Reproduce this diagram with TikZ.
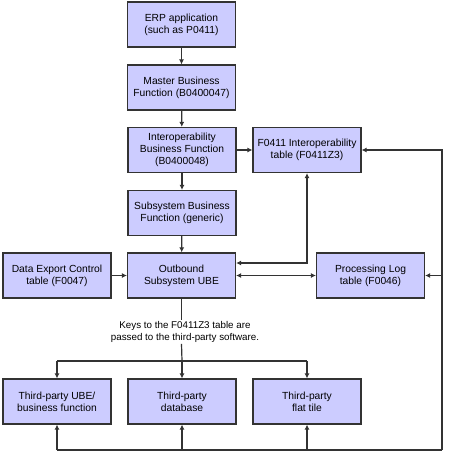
\documentclass[tikz,border=0pt]{standalone}
\usepackage{fontspec}
\setmainfont{Liberation Sans}
\usetikzlibrary{arrows.meta,calc}

\definecolor{boxfill}{HTML}{CCCCFF}
\definecolor{linegray}{HTML}{333333}

\begin{document}
\begin{tikzpicture}[x=1pt, y=-1pt, line join=miter,
  box/.style={draw=linegray, line width=1.2pt, fill=boxfill, align=center,
              minimum width=108pt, minimum height=45pt, inner sep=2pt,
              font=\fontsize{10.3}{12}\selectfont},
  lnk/.style={draw=linegray, line width=1.2pt},
  arr/.style={lnk, -{Latex[length=5pt,width=5pt]}},
  arrs/.style={lnk, {Latex[length=5pt,width=5pt]}-{Latex[length=5pt,width=5pt]}}]

\useasboundingbox (0,0) rectangle (468,463);

% --- Main column ---
\node[box] (erp)      at (181.5,24.5)  {ERP application\\(such as P0411)};
\node[box] (master)   at (181.5,87.5)  {Master Business\\Function (B0400047)};
\node[box] (interop)  at (182,150)     {Interoperability\\Business Function\\(B0400048)};
\node[box] (subsys)   at (182,213)     {Subsystem Business\\Function (generic)};
\node[box] (outbound) at (181.5,275.5) {Outbound\\Subsystem UBE};

% --- Side tables ---
\node[box] (f0411)   at (307,150)     {F0411 Interoperability\\table (F0411Z3)};
\node[box] (dataexp) at (57,275.5)    {Data Export Control\\table (F0047)};
\node[box] (proclog) at (370.5,275.5) {Processing Log\\table (F0046)};

% --- Third-party targets ---
\node[box] (ube)  at (57,401.5)  {Third-party UBE/\\business function};
\node[box] (db)   at (182,401.5) {Third-party\\database};
\node[box] (flat) at (307,401.5) {Third-party\\flat tile};

% --- Note on the outbound line ---
\node[align=center, inner sep=1pt, font=\fontsize{9.8}{12}\selectfont]
  (keys) at (185,332) {Keys to the F0411Z3 table are\\passed to the third-party software.};

% --- Helper points ---
\coordinate (split) at (182,361);
\coordinate (rail)  at (442,450);

% --- Down the main column ---
\draw[arr] (erp) -- (master);
\draw[arr] (master) -- (interop);
\draw[arr] (interop) -- (subsys);
\draw[arr] (subsys) -- (outbound);
\draw[arr] (interop) -- (f0411);
\draw[arr] (dataexp) -- (outbound);

% --- Outbound UBE and its tables ---
\draw[arrs] (f0411.south) |- ([yshift=12.5pt]outbound.east);
\draw[arrs] (outbound) -- (proclog);

% --- Keys passed to third-party software ---
\draw[lnk] (outbound.south) -- (outbound.south |- keys.north);
\draw[lnk] (outbound.south |- keys.south) -- (split);
\draw[lnk] (ube.north |- split) -- (flat.north |- split);
\draw[arr] (ube.north |- split) -- (ube.north);
\draw[arr] (split) -- (db.north);
\draw[arr] (flat.north |- split) -- (flat.north);

% --- Return rail on the right ---
\draw[arr] (rail) |- (f0411.east);
\draw[arr] (rail |- proclog.east) -- (proclog.east);
\draw[lnk] (rail) -- (ube.south |- rail);
\draw[arr] (ube.south |- rail) -- (ube.south);
\draw[arr] (db.south |- rail) -- (db.south);
\draw[arr] (flat.south |- rail) -- (flat.south);

\end{tikzpicture}
\end{document}
